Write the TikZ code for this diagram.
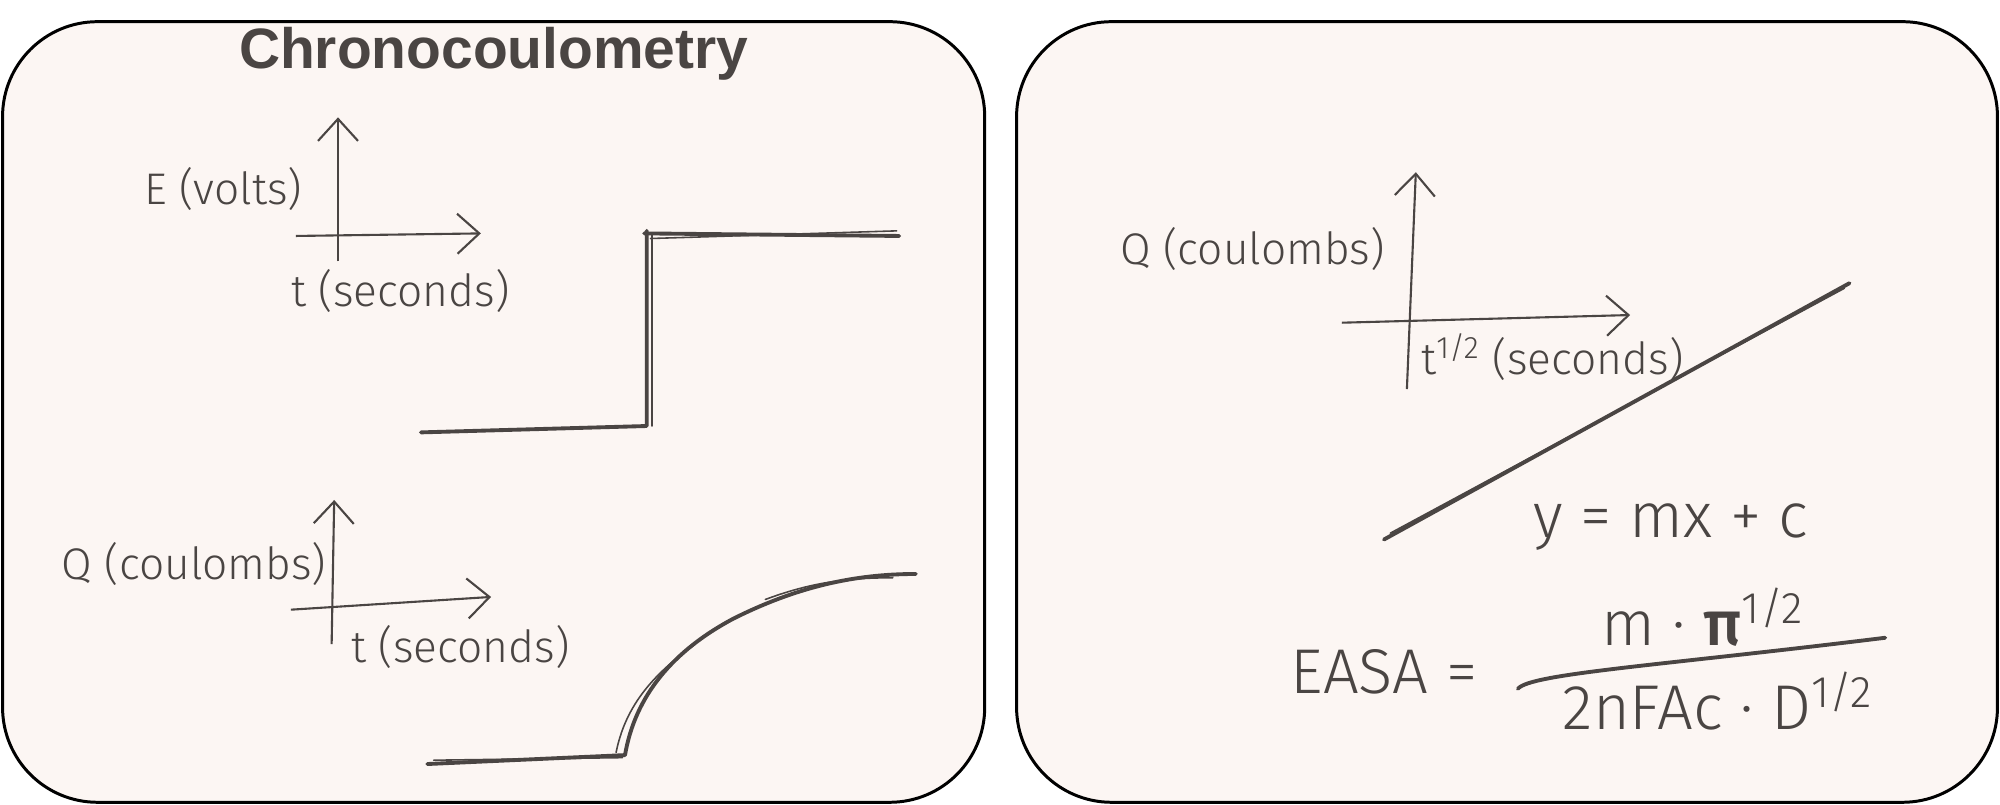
\documentclass[tikz,border=0pt]{standalone}
\usepackage{fontspec}
\usepackage{tikz}
\usetikzlibrary{arrows,arrows.meta}
\usetikzlibrary{calc}
\newfontfamily\hand{Fira Sans}[UprightFont={* Light}, BoldFont={* Medium}]
\newfontfamily\titlefont{Liberation Sans}
\definecolor{paper}{HTML}{FCF6F3}
\definecolor{ink}{HTML}{4A4543}
\tikzset{>={Straight Barb[length=2.2mm,width=4mm]}}
\tikzstyle{panel} = [draw = black, line width = 0.85, fill = paper, rounded corners = 0.95cm]
\tikzstyle{pen} = [line width = 1.1, color = ink, line cap = round, line join = round]
\tikzstyle{trace} = [line width = 0.45, color = ink, line cap = round]
\tikzstyle{axis} = [line width = 0.6, color = ink, ->]
\tikzstyle{lbl} = [text = ink, font = \hand\fontsize{12.6}{15}\selectfont, inner sep = 0pt]
\tikzstyle{eqn} = [text = ink, font = \hand\fontsize{18}{21}\selectfont, inner sep = 0pt]

\begin{document}
\begin{tikzpicture}[x=0.012755cm, y=-0.012755cm]

	\useasboundingbox (0,0) rectangle (1568,631);

	% Panels
	\draw[panel] (2,17) rectangle (772,629);
	\draw[panel] (797,17) rectangle (1566,629);

	% Title
	\node (title) at (387,42) [text = ink, font = \titlefont\bfseries\fontsize{16.2}{19}\selectfont] {Chronocoulometry};

	% Potential step
	\draw[axis] (265,205) -- (265,92);
	\draw[axis] (232,185) -- (377,183);
	\node (elbl) [lbl] at (175,148) {E (volts)};
	\node (tlbl) [lbl] at (314,228) {t (seconds)};
	\draw[pen] (330,339) -- (507,334) -- (507,181);
	\draw[pen] (505,183) -- (705,185);
	\draw[trace] (511,334) -- (511,183);
	\draw[trace] (510,187) -- (703,181);

	% Charge transient
	\draw[axis] (260,505) -- (262,392);
	\draw[axis] (228,478) -- (385,468);
	\node (qlbl) [lbl] at (152,442) {Q (coulombs)};
	\node (tlbl2) [lbl] at (361,507) {t (seconds)};
	\draw[pen] (335,599) -- (490,592) .. controls (498,545) and (528,510) .. (575,485)
		.. controls (625,460) and (670,450) .. (718,450);
	\draw[trace] (340,596) -- (488,594);
	\draw[trace] (483,590) .. controls (490,555) and (510,530) .. (545,505);
	\draw[trace] (600,470) .. controls (640,455) and (670,453) .. (700,453);

	% Anson plot
	\draw[axis] (1103,305) -- (1110,135);
	\draw[axis] (1052,253) -- (1278,247);
	\node (qlbl2) [lbl] at (982,195) {Q (coulombs)};
	\node (slbl) [lbl] at (1217,280) {t\textsuperscript{1/2} (seconds)};
	\draw[pen] (1085,423) -- (1450,222);
	\draw[trace] (1090,418) -- (1446,226);
	\node (fit) [eqn] at (1310,413) {y = mx + c};

	% Area
	\node (easa) [eqn] at (1085,527) {EASA =};
	\node (num) [eqn] at (1335,484) {m · {\bfseries π}\textsuperscript{1/2}};
	\node (den) [eqn] at (1347,550) {2nFAc · D\textsuperscript{1/2}};
	\draw[pen] (1190,540) .. controls (1200,528) and (1300,522) .. (1478,500);

\end{tikzpicture}
\end{document}
